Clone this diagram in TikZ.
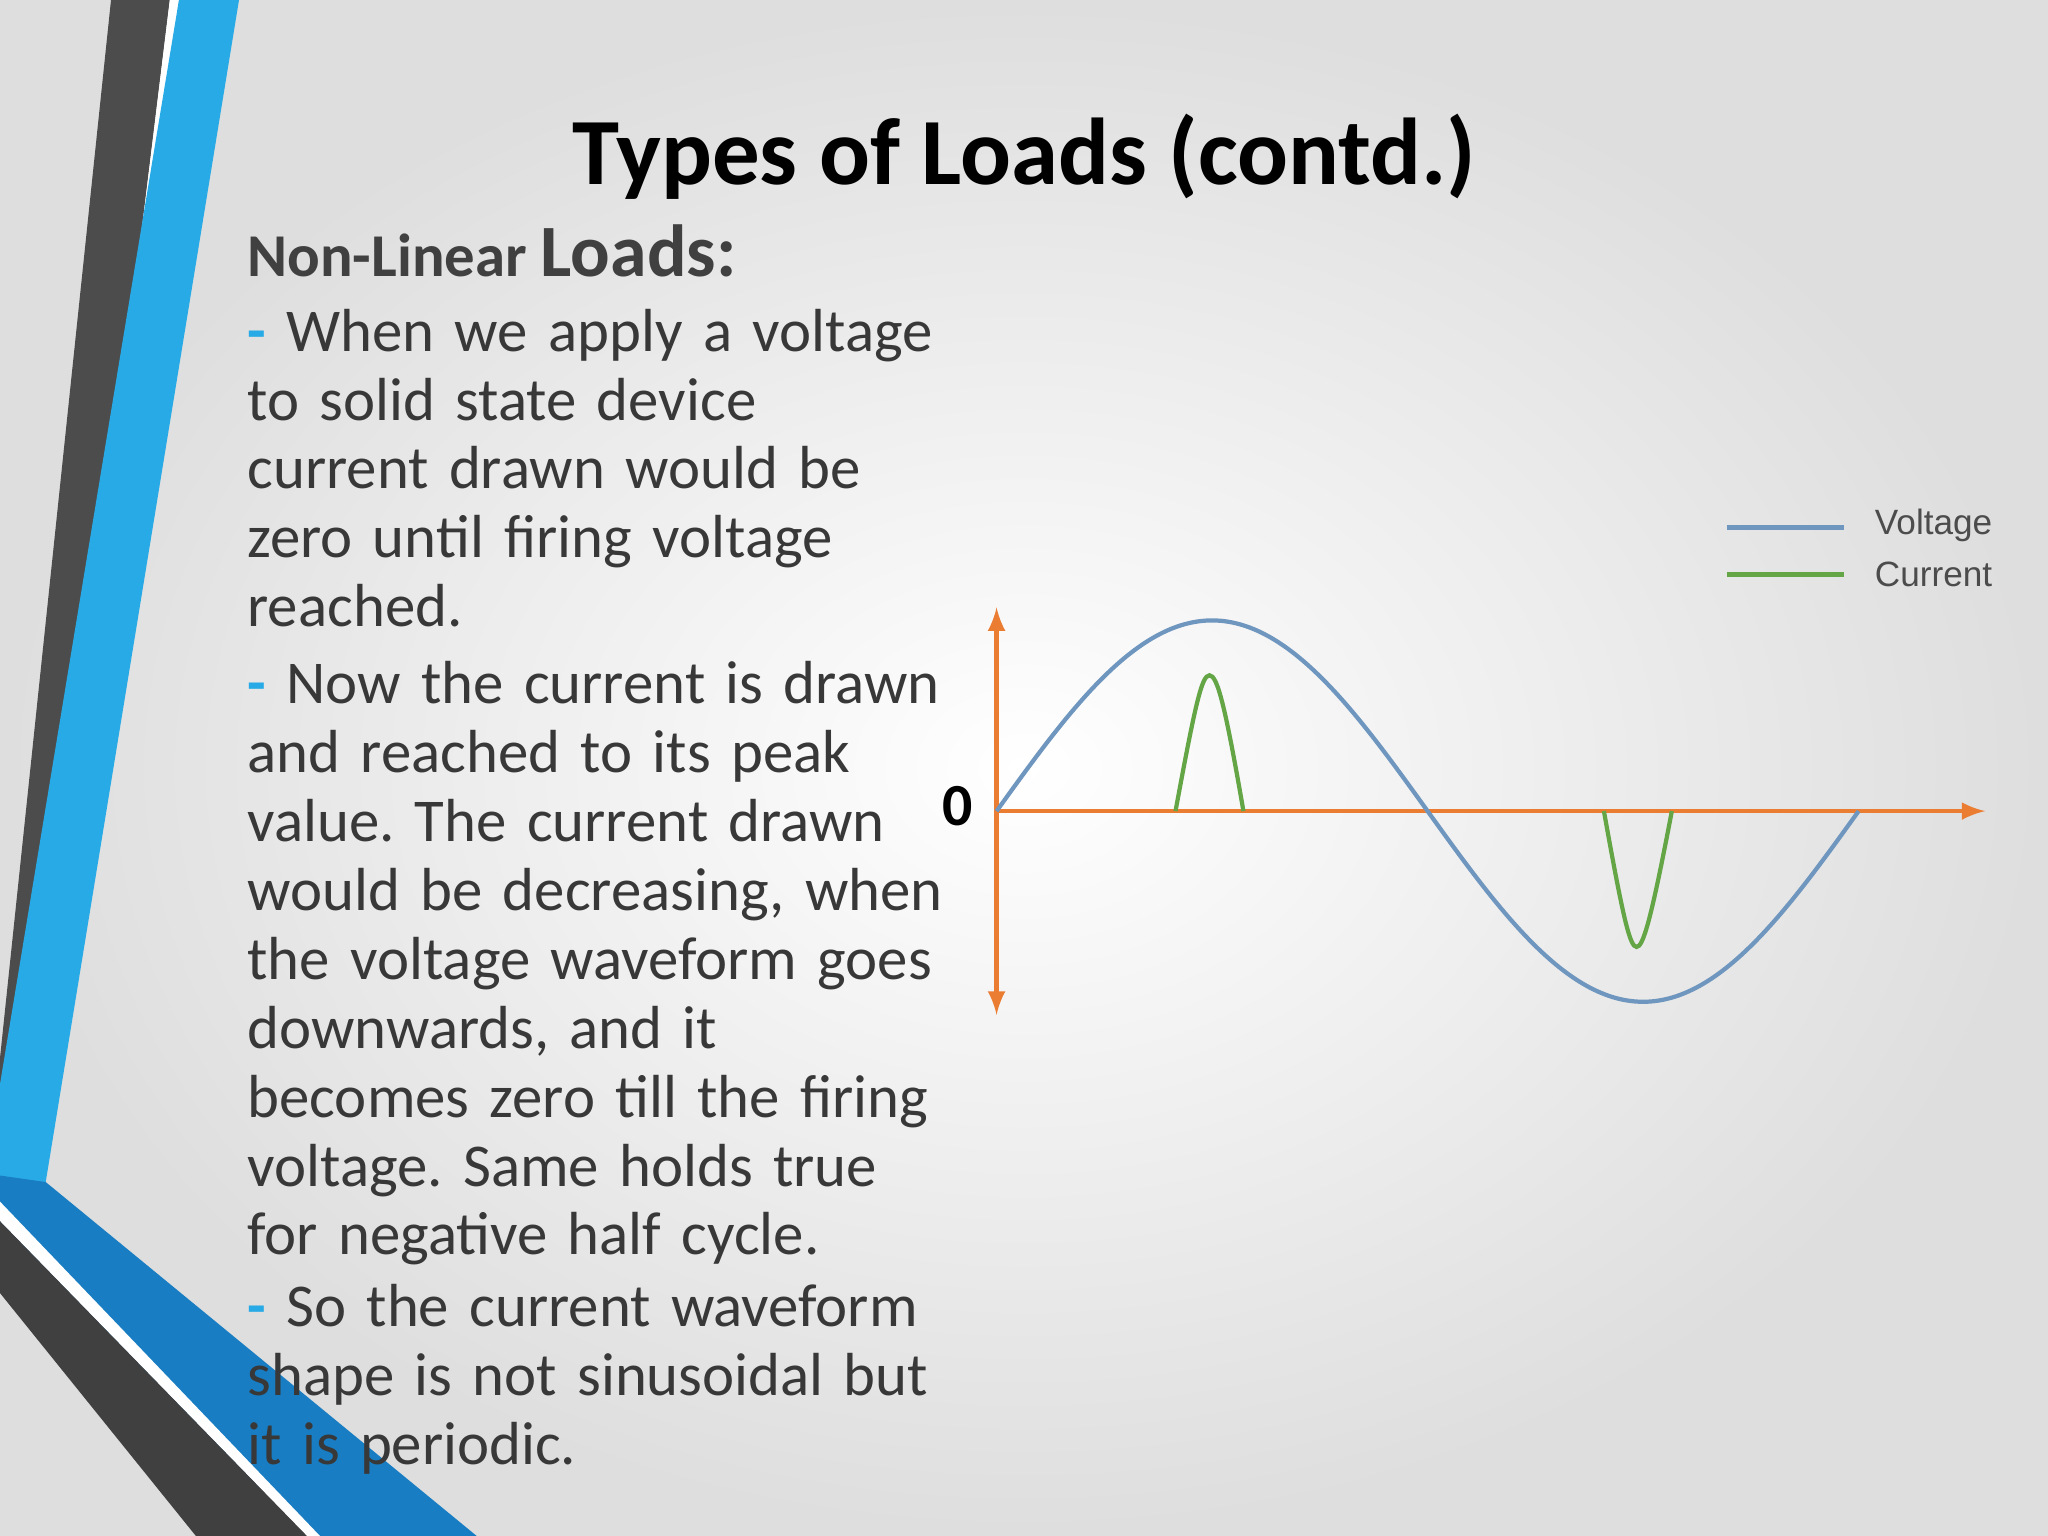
\documentclass[tikz,border=0pt]{standalone}
\usepackage{fontspec}
\setmainfont{Carlito}
\newfontfamily\arialf{Liberation Sans}
\definecolor{vcol}{RGB}{110,150,190}
\definecolor{ccol}{RGB}{100,165,70}
\definecolor{acol}{RGB}{235,125,50}
\definecolor{bcol}{RGB}{40,170,230}
\definecolor{bdark}{RGB}{25,125,195}
\frenchspacing
\begin{document}
\begin{tikzpicture}[x=0.013061cm,y=-0.013061cm,
  body/.style={anchor=north west,align=left,text width=7.4cm,inner sep=0,font=\fontsize{17.3}{19.6}\selectfont,text=black!78},
  axis/.style={draw=acol,line width=1.3pt},
  volt/.style={draw=vcol,line width=1.2pt},
  curr/.style={draw=ccol,line width=1.2pt},
  leg/.style={anchor=west,font=\arialf\fontsize{10}{12}\selectfont,text=black!70}]
\useasboundingbox (0,0) rectangle (1568,1176);
\shade[inner color=white,outer color=black!13] (0,0) rectangle (1568,1176);
% left decoration
\fill[black!70] (85,0) -- (130,0) -- (20,900) -- (0,900) -- (0,810) -- cycle;
\fill[white] (130,0) -- (137,0) -- (28,900) -- (20,900) -- cycle;
\fill[bcol] (137,0) -- (183,0) -- (35,905) -- (0,905) -- (0,830) -- cycle;
\fill[bdark] (0,900) -- (35,905) -- (365,1176) -- (240,1176) -- (0,960) -- cycle;
\fill[white] (0,920) -- (245,1176) -- (235,1176) -- (0,935) -- cycle;
\fill[black!75] (0,935) -- (235,1176) -- (150,1176) -- (0,990) -- cycle;
% title
\node[font=\bfseries\fontsize{27}{32}\selectfont] (title) at (784,120) {Types of Loads (contd.)};
\node[anchor=west,inner sep=0,font=\bfseries\fontsize{17.3}{20}\selectfont,text=black!75] (sub) at (189,192) {Non-Linear {\fontsize{21}{24}\selectfont Loads:}};
\node[body] (t1) at (189,236) {{\color{bcol}\bfseries -} When we apply a voltage\\to solid state device\\current drawn would be\\zero until firing voltage\\reached.};
\node[body] (t2) at (189,506) {{\color{bcol}\bfseries -} Now the current is drawn\\and reached to its peak\\value. The current drawn\\would be decreasing, when\\the voltage waveform goes\\downwards, and it\\becomes zero till the firing\\voltage. Same holds true\\for negative half cycle.};
\node[body] (t3) at (189,983) {{\color{bcol}\bfseries -} So the current waveform\\shape is not sinusoidal but\\it is periodic.};
% graph
\coordinate (o) at (763,621);
\coordinate (xe) at (1520,621);
\coordinate (yt) at (763,465);
\coordinate (yb) at (763,777);
\draw[axis,-latex] (o) -- (xe);
\draw[axis,latex-latex] (yt) -- (yb);
\node[font=\bfseries\fontsize{17}{20}\selectfont] (zero) at (733,617) {0};
\draw[volt,domain=0:660,samples=120,smooth] plot ({763+\x},{621-146*sin(\x/660*360)});
\draw[curr] (900,621) .. controls (915,540) and (920,517) .. (926,517) .. controls (932,517) and (938,540) .. (952,621);
\draw[curr] (1228,621) .. controls (1243,705) and (1248,725) .. (1253,725) .. controls (1258,725) and (1264,705) .. (1280,621);
\coordinate (l1a) at (1322,404); \coordinate (l1b) at (1412,404);
\coordinate (l2a) at (1322,440); \coordinate (l2b) at (1412,440);
\draw[volt,line width=1.5pt] (l1a) -- (l1b);
\draw[curr,line width=1.5pt] (l2a) -- (l2b);
\node[leg] (lv) at (1426,402) {Voltage};
\node[leg] (lc) at (1426,440) {Current};
\end{tikzpicture}
\end{document}
